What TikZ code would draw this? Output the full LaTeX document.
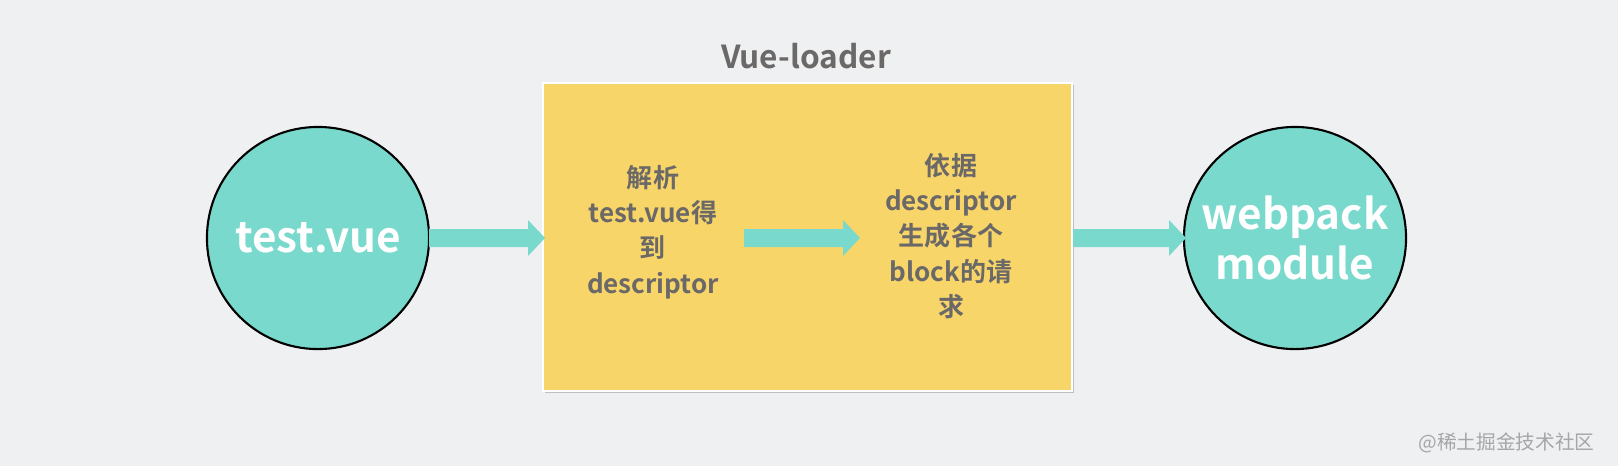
\documentclass[tikz,border=0pt]{standalone}
\usepackage{fontspec}
\setmainfont{Noto Sans CJK SC}[BoldFont={* Bold}]
\definecolor{bg}{HTML}{EFF0F2}
\definecolor{teal}{HTML}{79D9CC}
\definecolor{ylw}{HTML}{F8D568}
\definecolor{txt}{HTML}{6B6868}
\tikzset{
 circ/.style={circle,draw=black,line width=0.6pt,fill=teal,minimum size=2.22cm,text=white,font=\bfseries\fontsize{12}{14}\selectfont,align=center,inner sep=0pt},
 lbl/.style={text=txt,font=\bfseries\fontsize{7.4}{10}\selectfont,align=center}
}
\begin{document}
\begin{tikzpicture}[x=0.01cm,y=-0.01cm]
\fill[bg] (0,0) rectangle (1618,466);
\useasboundingbox (0,0) rectangle (1618,466);
\fill[black!25] (545,85) rectangle (1074,393);
\fill[ylw] (543,83) rectangle (1072,391);
\draw[white,line width=0.8pt] (543,83) rectangle (1072,391);
\node[circ] (a) at (318,238) {test.vue};
\node[circ] (b) at (1295,238) {webpack\\module};
\node[lbl,font=\bfseries\fontsize{9}{11}\selectfont] (t) at (806,56) {Vue-loader};
\node[lbl] (p) at (653,232) {解析\\test.vue得\\到\\descriptor};
\node[lbl] (q) at (951,236) {依据\\descriptor\\生成各个\\block的请\\求};
\node[text=gray!70,font=\fontsize{5.6}{7}\selectfont,anchor=east] (w) at (1607,443) {@稀土掘金技术社区};
\foreach \s/\e in {429/545,744/860,1073/1186}{
 \fill[teal] (\s,229) -- (\e-17,229) -- (\e-17,220) -- (\e,238) -- (\e-17,256) -- (\e-17,247) -- (\s,247) -- cycle;
}
\end{tikzpicture}
\end{document}
